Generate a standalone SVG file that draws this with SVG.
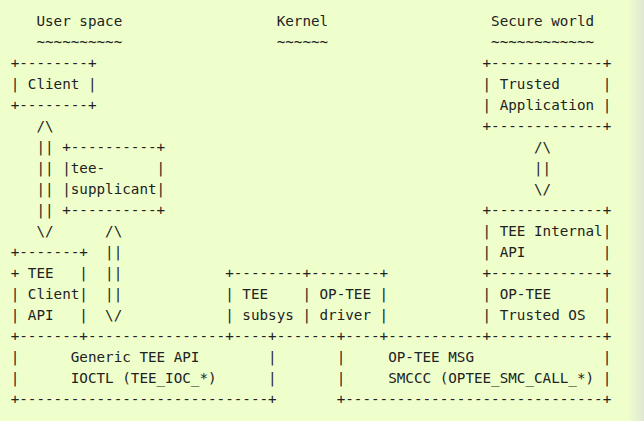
<svg xmlns="http://www.w3.org/2000/svg" width="644" height="421" viewBox="0 0 644 421">
<style>
text{font-family:"DejaVu Sans Mono",monospace;font-size:14.25px;fill:#222;white-space:pre}
</style>
<defs><linearGradient id="g" x1="0" x2="1"><stop offset="0" stop-color="#eeffcc"/><stop offset="1" stop-color="#dfe8d0"/></linearGradient></defs>
<rect width="644" height="421" fill="#eeffcc"/>
<rect x="628" width="16" height="421" fill="url(#g)"/>
<g id="diagram" xml:space="preserve">
<text x="10.7" y="26">   User space                  Kernel                   Secure world</text>
<text x="10.7" y="47">   ~~~~~~~~~~                  ~~~~~~                   ~~~~~~~~~~~~</text>
<text x="10.7" y="68">+--------+                                             +-------------+</text>
<text x="10.7" y="89">| Client |                                             | Trusted     |</text>
<text x="10.7" y="110">+--------+                                             | Application |</text>
<text x="10.7" y="131">   /\                                                  +-------------+</text>
<text x="10.7" y="152">   || +----------+                                           /\</text>
<text x="10.7" y="173">   || |tee-      |                                           ||</text>
<text x="10.7" y="194">   || |supplicant|                                           \/</text>
<text x="10.7" y="215">   || +----------+                                     +-------------+</text>
<text x="10.7" y="236">   \/      /\                                          | TEE Internal|</text>
<text x="10.7" y="257">+-------+  ||                                          | API         |</text>
<text x="10.7" y="278">+ TEE   |  ||            +--------+--------+           +-------------+</text>
<text x="10.7" y="299">| Client|  ||            | TEE    | OP-TEE |           | OP-TEE      |</text>
<text x="10.7" y="320">| API   |  \/            | subsys | driver |           | Trusted OS  |</text>
<text x="10.7" y="341">+-------+----------------+----+-------+----+-----------+-------------+</text>
<text x="10.7" y="362">|      Generic TEE API        |       |     OP-TEE MSG               |</text>
<text x="10.7" y="383">|      IOCTL (TEE_IOC_*)      |       |     SMCCC (OPTEE_SMC_CALL_*) |</text>
<text x="10.7" y="404">+-----------------------------+       +------------------------------+</text>
</g>
</svg>
